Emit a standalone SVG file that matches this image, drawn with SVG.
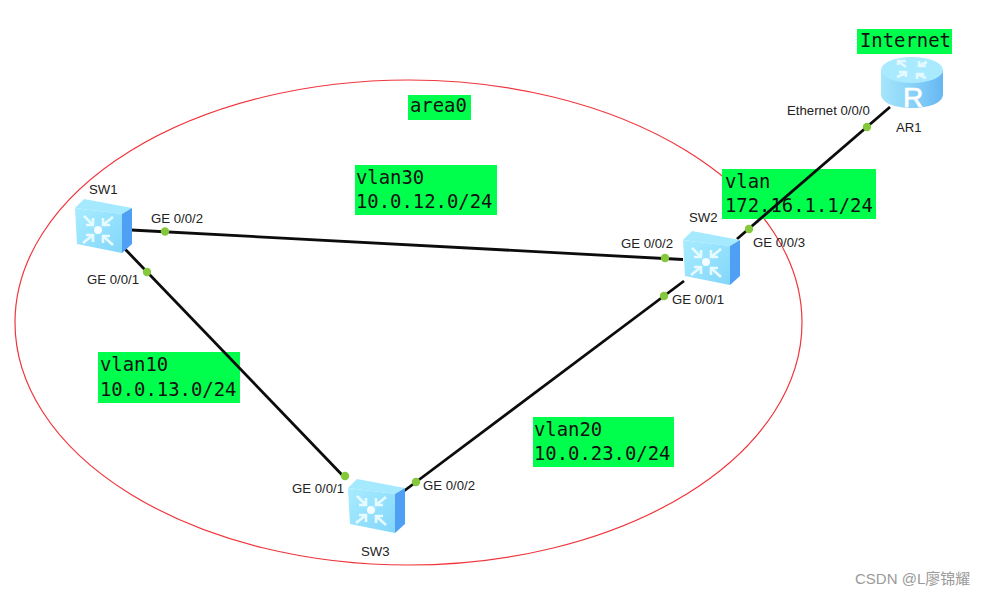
<svg xmlns="http://www.w3.org/2000/svg" width="986" height="596" viewBox="0 0 986 596">
<style>
.lbl{font-family:"Liberation Sans",Arial,sans-serif;font-size:13.2px;fill:#222}
.mono{font-family:"DejaVu Sans Mono","Liberation Mono",monospace;font-size:18.9px;fill:#111}
.tag{fill:#00ff4c}
.wire{stroke:#0c0c0c;stroke-width:2.8;fill:none}
.dot{fill:#85c83c}
.wm{font-family:"Liberation Sans","Noto Sans CJK SC",sans-serif;font-size:15px;fill:#9a9a9a}
</style>
<defs>
<linearGradient id="front" x1="0" y1="0" x2="1" y2="1"><stop offset="0" stop-color="#a8ecff"/><stop offset="1" stop-color="#82d6fb"/></linearGradient>
<linearGradient id="cyl" x1="0" y1="0" x2="1" y2="0"><stop offset="0" stop-color="#a6e6fb"/><stop offset=".6" stop-color="#82cdf8"/><stop offset="1" stop-color="#66b6f2"/></linearGradient>
<g id="switch">
<path d="M75 208 84 199 132 208 122 214Z" fill="#a5e9ff"/>
<path d="M122 214 132 208 132 244 122 253Z" fill="#4f9ff4"/>
<path d="M75 208 122 214 122 253 77 244Z" fill="url(#front)"/>
<circle cx="98" cy="230" r="4" fill="#f4fdff"/>
<g stroke="#e6faff" stroke-width="2.6" fill="none">
<path d="M84 216 93 225M93 218V225H86"/>
<path d="M113 217 103 225M103 218V225H110"/>
<path d="M83 243 93 235M86 235H93V242"/>
<path d="M113 245 103 236M110 236H103V243"/>
</g>
</g>
</defs>

<ellipse cx="408.500" cy="322.500" rx="393.500" ry="242.500" fill="none" stroke="#f0353c" stroke-width="1.200"/>

<g id="tags">
<rect class="tag" x="408" y="95" width="63" height="25"/>
<rect class="tag" x="355" y="165" width="142" height="50"/>
<rect class="tag" x="722" y="169" width="154" height="50"/>
<rect class="tag" x="98" y="352" width="142" height="51"/>
<rect class="tag" x="533" y="417" width="141" height="50"/>
<rect class="tag" x="857" y="29" width="95" height="25"/>
<text class="mono" x="410" y="112">area0</text>
<text class="mono" x="356" y="184">vlan30</text>
<text class="mono" x="356" y="208">10.0.12.0/24</text>
<text class="mono" x="725" y="188">vlan</text>
<text class="mono" x="725" y="212">172.16.1.1/24</text>
<text class="mono" x="100" y="371">vlan10</text>
<text class="mono" x="100" y="396">10.0.13.0/24</text>
<text class="mono" x="534" y="436">vlan20</text>
<text class="mono" x="534" y="460">10.0.23.0/24</text>
<text class="mono" x="860" y="47">Internet</text>
</g>

<g id="connectors">
<path class="wire" d="M131 230 683 259.500"/>
<path class="wire" d="M124 248 346 479"/>
<path class="wire" d="M684 281 402 492.500"/>
<path class="wire" d="M737 239 890 107"/>
<circle class="dot" cx="165" cy="231.500" r="4.200"/>
<circle class="dot" cx="147" cy="272" r="4.200"/>
<circle class="dot" cx="665" cy="258" r="4.200"/>
<circle class="dot" cx="664" cy="296" r="4.200"/>
<circle class="dot" cx="749" cy="229" r="4.200"/>
<circle class="dot" cx="867" cy="127" r="4.200"/>
<circle class="dot" cx="345" cy="476" r="4.200"/>
<circle class="dot" cx="416" cy="482" r="4.200"/>
</g>

<g id="SW1"><use href="#switch"/><text class="lbl" x="89" y="194">SW1</text></g>
<g id="SW2"><use href="#switch" transform="translate(608 32)"/><text class="lbl" x="689" y="222">SW2</text></g>
<g id="SW3"><use href="#switch" transform="translate(273 280)"/><text class="lbl" x="361" y="556">SW3</text></g>
<g id="AR1">
<path d="M881 70V94C881 103 895 108 912 108S943 103 943 94V70Z" fill="url(#cyl)"/>
<ellipse cx="912" cy="70" rx="31" ry="13" fill="#a9eaff"/>
<path d="M899 62 906 67M906 61H898V65M927 62 918 66M919 61V66H926M897 77 906 73M899 72H906V77M926 78 917 74M917 79V74H924" stroke="#e3f9ff" stroke-width="2.600" fill="none"/>
<text x="913" y="107" font-family="Liberation Sans,sans-serif" font-size="28" fill="#fff" stroke="#fff" stroke-width=".7" text-anchor="middle">R</text>
<text class="lbl" x="896" y="132">AR1</text>
</g>

<g id="labels">
<text class="lbl" x="151" y="223">GE 0/0/2</text>
<text class="lbl" x="87" y="284">GE 0/0/1</text>
<text class="lbl" x="621" y="248">GE 0/0/2</text>
<text class="lbl" x="672" y="304">GE 0/0/1</text>
<text class="lbl" x="753" y="247">GE 0/0/3</text>
<text class="lbl" x="787" y="115">Ethernet 0/0/0</text>
<text class="lbl" x="292" y="493">GE 0/0/1</text>
<text class="lbl" x="423" y="490">GE 0/0/2</text>
</g>
<text class="wm" x="855" y="584">CSDN @L廖锦耀</text>
</svg>
